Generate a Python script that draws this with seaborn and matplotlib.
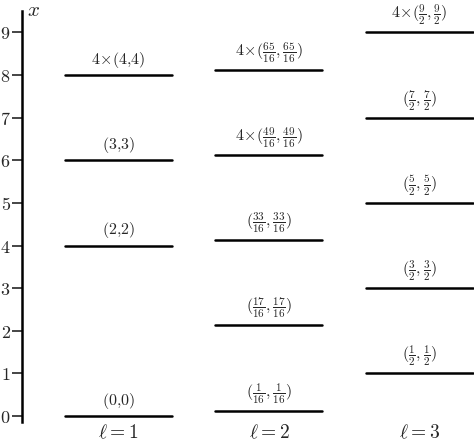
import pandas as pd
import matplotlib.pyplot as plt
import seaborn as sns

sns.set_style("white")
plt.rcParams['mathtext.fontset'] = 'cm'
plt.rcParams['font.family'] = ['DejaVu Serif']

# levels per column
ell_names = [r'$\ell=1$', r'$\ell=2$', r'$\ell=3$']
levels_1 = [0, 4, 6, 8]
labels_1 = [r'$(0{,}0)$', r'$(2{,}2)$', r'$(3{,}3)$', r'$4\!\times\!(4{,}4)$']
levels_2 = [0.125, 2.125, 4.125, 6.125, 8.125]
labels_2 = [r'$(\frac{1}{16},\frac{1}{16})$', r'$(\frac{17}{16},\frac{17}{16})$',
            r'$(\frac{33}{16},\frac{33}{16})$', r'$4\!\times\!(\frac{49}{16},\frac{49}{16})$',
            r'$4\!\times\!(\frac{65}{16},\frac{65}{16})$']
levels_3 = [1, 3, 5, 7, 9]
labels_3 = [r'$(\frac{1}{2},\frac{1}{2})$', r'$(\frac{3}{2},\frac{3}{2})$',
            r'$(\frac{5}{2},\frac{5}{2})$', r'$(\frac{7}{2},\frac{7}{2})$',
            r'$4\!\times\!(\frac{9}{2},\frac{9}{2})$']

half = 0.355
rows = []
for col, (lv, lb) in enumerate([(levels_1, labels_1), (levels_2, labels_2), (levels_3, labels_3)], start=1):
    for y in lv:
        for dx in (-half, half):
            rows.append({'x': col + dx, 'y': y, 'unit': f'{col}-{y}'})
df = pd.DataFrame(rows)

fig = plt.figure(figsize=(4.74, 4.47), dpi=100)
ax = fig.add_axes([0.046, 0.055, 0.954, 0.92])
sns.lineplot(data=df, x='x', y='y', units='unit', estimator=None, color='black', lw=1.8, ax=ax)

for col, (lv, lb) in enumerate([(levels_1, labels_1), (levels_2, labels_2), (levels_3, labels_3)], start=1):
    for y, t in zip(lv, lb):
        ax.text(col, y + 0.12, t, ha='center', va='bottom', fontsize=11.5)

ax.set_xlim(0.359, 3.362)
ax.set_ylim(-0.15, 9.5)
ax.set_yticks(range(10))
ax.set_yticklabels([f'${i}$' for i in range(10)], fontsize=13)
ax.set_xticks([1, 2, 3])
ax.set_xticklabels(ell_names, fontsize=14)
ax.tick_params(axis='x', length=0, pad=1)
ax.tick_params(axis='y', direction='out', length=7, width=1.2, pad=1, left=True)
ax.set_xlabel('')
ax.set_ylabel('')
for s in ['top', 'right', 'bottom']:
    ax.spines[s].set_visible(False)
ax.spines['left'].set_linewidth(1.8)
ax.spines['left'].set_color('black')
fig.text(0.058, 0.998, r'$x$', ha='left', va='top', fontsize=15)

fig.savefig('out.png', dpi=100)
